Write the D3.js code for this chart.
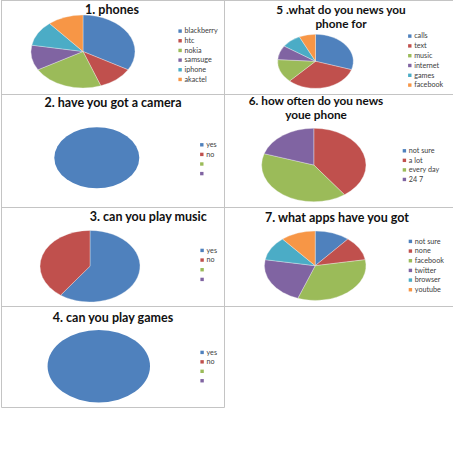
<!DOCTYPE html>
<html><head><meta charset="utf-8">
<script src="https://cdn.jsdelivr.net/npm/d3@7"></script>
<style>html,body{margin:0;padding:0;background:#fff;}svg{display:block;}</style>
</head><body>
<script>
// ---- data ----
const phonesLabels = ["blackberry","htc","nokia","samsuge","iphone","akactel"];
const phonesValues = [6,2,4,2,2,2];
const cameraLabels = ["yes","no","",""];
const cameraValues = [1,0,0,0];
const musicLabels = ["yes","no","",""];
const musicValues = [3,2,0,0];
const gamesLabels = ["yes","no","",""];
const gamesValues = [1,0,0,0];
const useLabels = ["calls","text","music","internet","games","facebook"];
const useValues = [30,32,14,8.5,8.5,7];
const oftenLabels = ["not sure","a lot","every day","24 7"];
const oftenValues = [0,2,2,1];
const appsLabels = ["not sure","none","facebook","twitter","browser","youtube"];
const appsValues = [1,1,3,2,1,1];
const palette = ["#4F81BD","#C0504D","#9BBB59","#8064A2","#4BACC6","#F79646"];

// ---- layout ----
const panels = [
  {title:["1. phones"], tx:112, ty:[14], labels:phonesLabels, values:phonesValues, cx:83, cy:51.5, rx:52, ry:36.5, lx:180, ly:31, ls:9.67},
  {title:["5 .what do you news you","phone for"], tx:341, ty:[14,27.5], labels:useLabels, values:useValues, cx:315.5, cy:61.3, rx:37.8, ry:27, lx:409.7, ly:36, ls:9.8},
  {title:["2. have you got a camera"], tx:113, ty:[107], labels:cameraLabels, values:cameraValues, cx:96.8, cy:157.8, rx:42.5, ry:30.5, lx:201.7, ly:144.7, ls:9.6},
  {title:["6. how often do you news","youe phone"], tx:316, ty:[105,118.5], labels:oftenLabels, values:oftenValues, cx:313.8, cy:165, rx:52.2, ry:36.7, lx:404.3, ly:150.7, ls:9.55},
  {title:["3. can you play music"], tx:148.3, ty:[221], labels:musicLabels, values:musicValues, cx:90, cy:266.2, rx:50, ry:35.8, lx:202, ly:250.3, ls:9.67},
  {title:["7. what apps have you got"], tx:337, ty:[222], labels:appsLabels, values:appsValues, cx:315.2, cy:265.7, rx:50.8, ry:34.7, lx:410.3, ly:241.3, ls:9.67},
  {title:["4. can you play games"], tx:113, ty:[322], labels:gamesLabels, values:gamesValues, cx:98.8, cy:366.2, rx:51.2, ry:36.2, lx:202, ly:352.3, ls:9.45}
];

const W = 453, H = 453;
const svg = d3.select("body").append("svg").attr("width", W).attr("height", H);

// panel borders
const bc = "#c4c4c4";
const g0 = svg.append("g").attr("stroke", bc).attr("stroke-width", 1).attr("fill", "none");
[[1.5,0,1.5,407.5],[224.5,0,224.5,407.5]].forEach(l=>g0.append("line").attr("x1",l[0]).attr("y1",l[1]).attr("x2",l[2]).attr("y2",l[3]));
[[1.5,0.5,453,0.5],[1.5,94.5,453,94.5],[1.5,207.5,453,207.5],[1.5,306.5,453,306.5],[1.5,407.5,224.5,407.5]].forEach(l=>g0.append("line").attr("x1",l[0]).attr("y1",l[1]).attr("x2",l[2]).attr("y2",l[3]));

const pie = d3.pie().sort(null).value(d => d);
const color = d3.scaleOrdinal().domain(d3.range(6)).range(palette);

panels.forEach(p => {
  const g = svg.append("g");
  // title
  const fs = p.title.length > 1 ? 11.8 : 12.5;
  p.title.forEach((t,i) => {
    g.append("text").attr("x", p.tx).attr("y", p.ty[i]).attr("text-anchor","middle")
      .attr("font-family","Lato, 'Open Sans', sans-serif").attr("font-weight","bold")
      .attr("font-size", fs).attr("fill","#111").text(t);
  });
  // pie (elliptical)
  const arc = d3.arc().innerRadius(0).outerRadius(p.rx);
  const nonZero = p.values.filter(v => v > 0).length;
  const pg = g.append("g").attr("transform", `translate(${p.cx},${p.cy}) scale(1,${p.ry/p.rx})`);
  pg.selectAll("path").data(pie(p.values).filter(d => d.value > 0)).join("path")
    .attr("d", arc).attr("fill", d => color(d.index))
    .attr("stroke", nonZero > 1 ? "#f4f4f4" : "none").attr("stroke-width", 0.35)
    .attr("vector-effect","non-scaling-stroke");
  // legend
  const lg = g.append("g");
  p.labels.forEach((lab,i) => {
    const y = p.ly + i*p.ls;
    lg.append("rect").attr("x", p.lx-1.6).attr("y", y-1.6).attr("width",3.4).attr("height",3.4).attr("fill", color(i));
    lg.append("text").attr("x", p.lx+4.5).attr("y", y+2.3)
      .attr("font-family","Lato, 'Open Sans', sans-serif").attr("font-size", 7.2)
      .attr("fill","#404040").text(lab);
  });
});
</script>
</body></html>
